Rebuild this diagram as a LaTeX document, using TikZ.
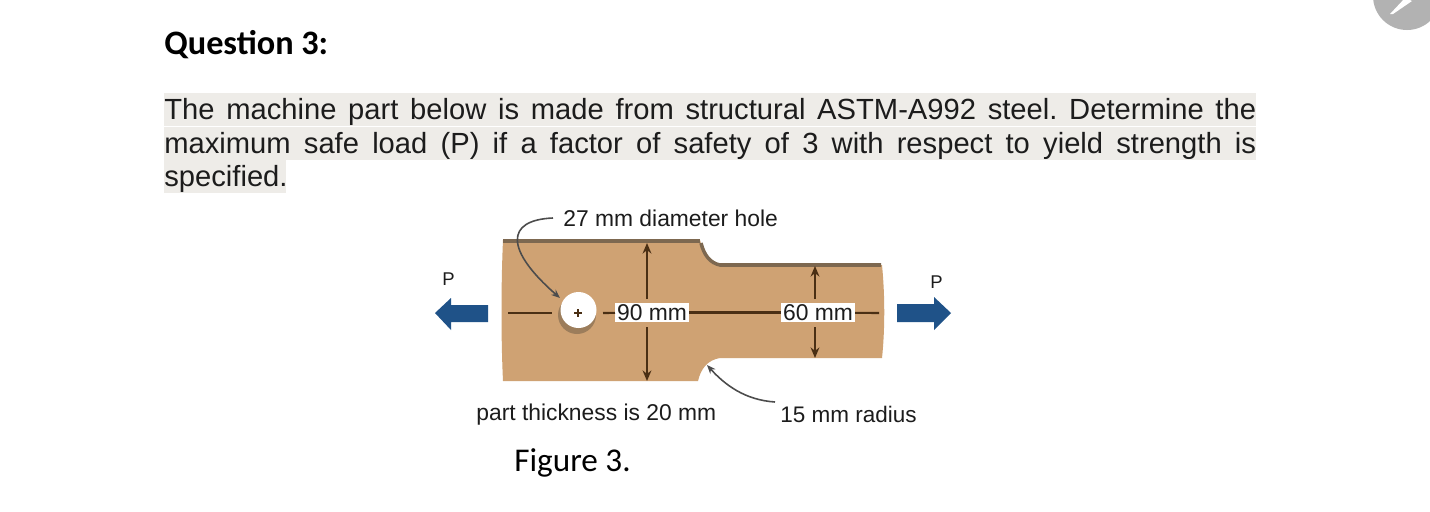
\documentclass[tikz,border=0pt]{standalone}
\usepackage{fontspec}
\setmainfont{Liberation Sans}
\newfontfamily\titlefont{Carlito}
\usetikzlibrary{arrows.meta}

\definecolor{partfill}{HTML}{CFA273}
\definecolor{partedge}{HTML}{7D6850}
\definecolor{partshade}{HTML}{9C7D5B}
\definecolor{dimline}{HTML}{4A2F14}
\definecolor{loadblue}{HTML}{1F5288}
\definecolor{linefill}{HTML}{EEECE8}
\definecolor{inktext}{HTML}{1C1C1C}

\begin{document}
\begin{tikzpicture}
		[
			x=0.02cm, y=-0.02cm,
			heading/.style={anchor=base west, inner sep=0pt, font=\titlefont\fontsize{18.9}{22}\selectfont, text=black},
			textline/.style={anchor=base west, inner sep=0pt, fill=linefill, text=inktext, text height=14.8pt, text depth=4pt, font=\fontsize{16.6}{20}\selectfont},
			dimlabel/.style={fill=white, inner sep=1pt, text=inktext, font=\fontsize{13}{15}\selectfont},
			note/.style={anchor=base west, inner sep=0pt, text=inktext, font=\fontsize{13}{15}\selectfont},
			dim/.style={draw=dimline, line width=1.2pt},
			dimarrow/.style={dim, -{Stealth[length=6pt, width=5pt]}},
			leader/.style={draw=black!70, line width=0.9pt, -{Stealth[length=5pt, width=4pt]}},
			load/.style={fill=loadblue},
		]

		\useasboundingbox (0,0) rectangle (1430,511);
		\clip (0,0) rectangle (1430,511);
		\fill[white] (0,0) rectangle (1430,511);

		% Pencil badge
		\fill[black!30] (1407,-4) circle (34);
		\fill[white] (1390,14) -- (1405,-2) -- (1412,1) -- (1393,14) -- cycle;

		% Text
		\node[heading, font=\titlefont\bfseries\fontsize{19.5}{23}\selectfont] (title) at (164,54) {Question 3:};
		\foreach \name/\y/\barwd/\text in
		{
			line1/119/21.84cm/{The machine part below is made from structural ASTM-A992 steel.\ Determine the},
			line2/153/21.84cm/{maximum safe load (P) if a factor of safety of 3 with respect to yield strength is},
			line3/186/2.44cm/{specified.}
		}
			\node[textline] (\name) at (164,\y) {\frenchspacing\makebox[\barwd][s]{\text}};
		\node[heading] (figure) at (514,471) {Figure 3.};

		% Part
		\fill[partfill] (503,240) -- (700,240) .. controls (704,255) and (710,263) .. (720,265)
			-- (882,265) .. controls (885,295) and (885,330) .. (882,358) -- (720,358)
			.. controls (708,360) and (701,368) .. (698,381) -- (503,381)
			.. controls (501,340) and (501,285) .. (503,240) -- cycle;
		\draw[partedge, line width=2pt] (503,241) -- (700,241);
		\draw[partedge, line width=2pt] (701,243) .. controls (704,255) and (710,263) .. (720,265) -- (881,265);

		% Hole
		\fill[partshade] (577,315) circle (19);
		\node[circle, fill=white, inner sep=0pt, minimum size=0.72cm] (hole) at (578.5,310) {};
		\draw[dimline, line width=0.8pt] (574,313) -- (582,313) (578,309) -- (578,317);

		% Nodes
		\foreach \name/\x/\text in
		{
			dim90/652/90 mm,
			dim60/818/60 mm
		}
			\node[dimlabel] (\name) at (\x,312.5) {\text};
		\node[note] (holenote) at (563,226) {27 mm diameter hole};
		\node[note] (thicknote) at (476,420) {part thickness is 20 mm};
		\node[note, font=\fontsize{12.8}{15}\selectfont] (radiusnote) at (780,422) {15 mm radius};
		\node[note, font=\fontsize{10.5}{12}\selectfont] (leftp) at (442,285) {P};
		\node[note, font=\fontsize{10.5}{12}\selectfont] (rightp) at (930,288) {P};

		% Free ends
		\foreach \name/\x/\y in
		{
			clA/508/313, clB/552/313, clC/603/313, clD/879/313,
			topA/647/243, midA/647/299, midB/647/327, botA/647/381,
			topB/815/266, midC/815/299, midD/815/327, botB/815/358,
			holeA/553/218, holeB/560/298, radA/775/402, radB/707/365
		}
			\coordinate (\name) at (\x,\y);

		% Dimension lines
		\foreach \u/\v in
		{
			clA/clB,
			clC/dim90,
			dim90/dim60,
			dim60/clD}
			\draw[dim] (\u) -- (\v);
		\foreach \u/\v in
		{
			midA/topA,
			midB/botA,
			midC/topB,
			midD/botB}
			\draw[dimarrow] (\u) -- (\v);

		% Leaders
		\draw[leader] (holeA) .. controls (505,220) and (505,250) .. (holeB);
		\draw[leader] (radA) .. controls (745,400) and (725,385) .. (radB);

		% Loads
		\fill[load] (435,313) -- (451,298) -- (451,305) -- (488,305) -- (488,322) -- (451,322) -- (451,330) -- cycle;
		\fill[load] (951,313) -- (934,297) -- (934,304) -- (897,304) -- (897,322) -- (934,322) -- (934,330) -- cycle;

		\end{tikzpicture}
\end{document}
